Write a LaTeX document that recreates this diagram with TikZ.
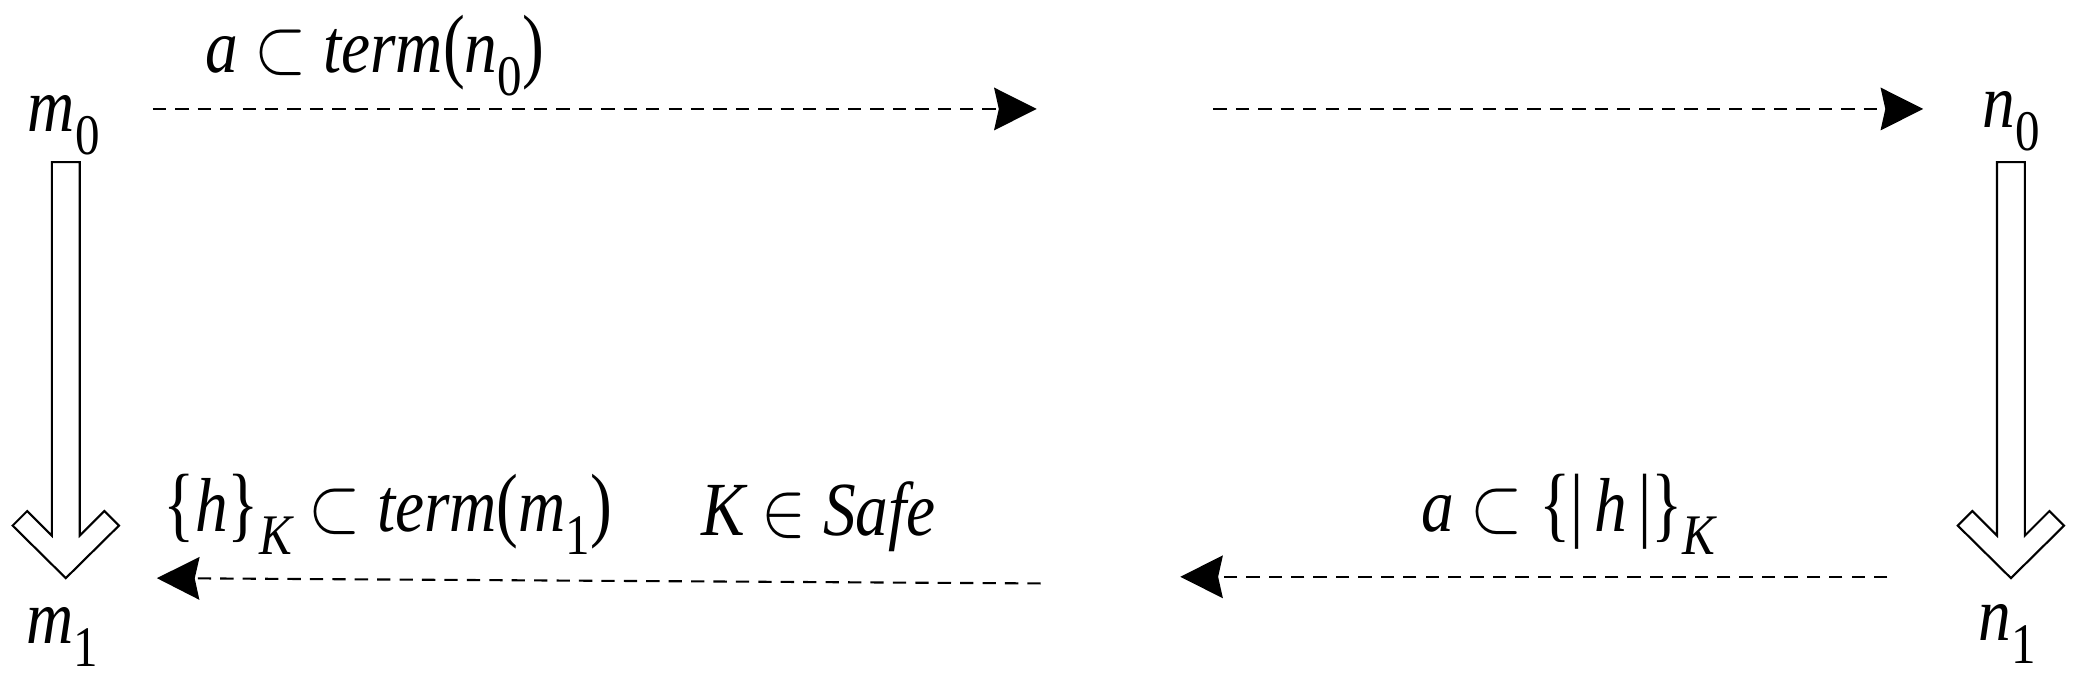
\documentclass[tikz,border=0pt]{standalone}
\usepackage{fontspec}
\setmainfont{Liberation Serif}
\usetikzlibrary{arrows.meta,calc}
\newcommand{\sbx}[1]{\raisebox{-0.3em}{\fontsize{10.5}{10}\selectfont #1}}
\newcommand{\tpar}[1]{\scalebox{1}[1.08]{\upshape #1}}
\newcommand{\vst}[1]{\scalebox{1}[1.17]{#1}}
\begin{document}
\begin{tikzpicture}[x=1cm,y=1cm,
  lbl/.style={inner sep=0pt, font=\fontsize{14}{16}\selectfont\itshape},
  dasharrow/.style={line width=0.45pt, dash pattern=on 2.85pt off 1.95pt, -{Stealth[length=0.32cm,width=0.32cm,inset=0.035cm]}},
  hollow/.style={draw, line width=0.45pt, fill=white, line join=miter}]
\useasboundingbox (0,0) rectangle (15.68,5.12);
% state nodes
\node[lbl] (m0) at (0.48,4.18) {\vst{m\sbx{\upshape 0}}};
\node[lbl] (n0) at (15.13,4.21) {\vst{n\sbx{\upshape 0}}};
\node[lbl] (m1) at (0.47,0.33) {\vst{m\sbx{\upshape 1}}};
\node[lbl] (n1) at (15.10,0.35) {\vst{n\sbx{\upshape 1}}};
% labels
\node[lbl] (ltop) at (2.82,4.70) {\vst{a $\subset$ term\tpar{(}n\sbx{\upshape 0}\tpar{)}}};
\node[lbl] (lbl1) at (2.92,1.25) {\vst{\tpar{\{}h\tpar{\}}\sbx{K} $\subset$ term\tpar{(}m\sbx{\upshape 1}\tpar{)}}};
\node[lbl] (lsafe) at (6.16,1.23) {\vst{K $\in$ Safe}};
\node[lbl] (lbr) at (11.80,1.25) {\vst{a $\subset$ \tpar{\{}\tpar{|}\,h\,\tpar{|}\tpar{\}}\sbx{K}}};
% dashed connectors
\coordinate (a1s) at (1.15,4.30); \coordinate (a1e) at (7.80,4.30);
\coordinate (a2s) at (9.13,4.30); \coordinate (a2e) at (14.47,4.30);
\coordinate (a3s) at (7.83,0.73); \coordinate (a3e) at (1.18,0.77);
\coordinate (a4s) at (14.20,0.78); \coordinate (a4e) at (8.88,0.78);
\draw[dasharrow] (a1s) -- (a1e);
\draw[dasharrow] (a2s) -- (a2e);
\draw[dasharrow] (a3s) -- (a3e);
\draw[dasharrow] (a4s) -- (a4e);
% hollow arrows
\coordinate (hm0) at (0.495,3.90); \coordinate (hm1) at (0.495,0.77);
\coordinate (hn0) at (15.13,3.90); \coordinate (hn1) at (15.13,0.77);
\foreach \s/\t in {hm0/hm1, hn0/hn1}{
\draw[hollow] ($(\s)+(-0.105,0)$) -- ($(\t)+(-0.105,0.32)$) -- ($(\t)+(-0.29,0.505)$) -- ($(\t)+(-0.40,0.395)$) -- (\t) -- ($(\t)+(0.40,0.395)$) -- ($(\t)+(0.29,0.505)$) -- ($(\t)+(0.105,0.32)$) -- ($(\s)+(0.105,0)$) -- cycle;
}
\end{tikzpicture}
\end{document}
